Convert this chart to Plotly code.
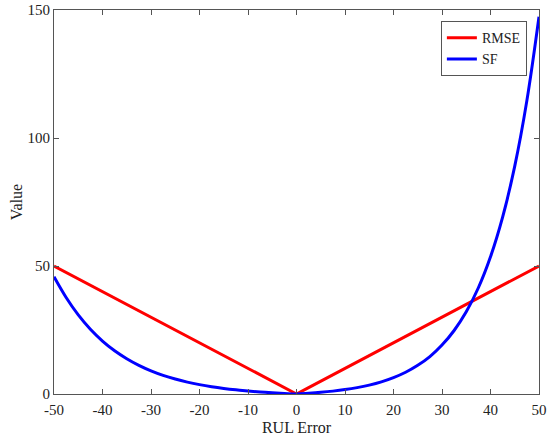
import plotly.graph_objects as go

# RUL error values (x) and the two scoring curves
rul_error = [-50, -47.5, -45, -42.5, -40, -37.5, -35, -32.5, -30, -27.5, -25,
             -22.5, -20, -17.5, -15, -12.5, -10, -7.5, -5, -2.5, 0,
             2.5, 5, 7.5, 10, 12.5, 15, 17.5, 20, 22.5, 25,
             27.5, 30, 32.5, 35, 37.5, 40, 42.5, 45, 47.5, 50]
rmse = [50, 47.5, 45, 42.5, 40, 37.5, 35, 32.5, 30, 27.5, 25,
        22.5, 20, 17.5, 15, 12.5, 10, 7.5, 5, 2.5, 0,
        2.5, 5, 7.5, 10, 12.5, 15, 17.5, 20, 22.5, 25,
        27.5, 30, 32.5, 35, 37.5, 40, 42.5, 45, 47.5, 50]
sf = [45.8, 37.7, 30.9, 25.3, 20.7, 16.9, 13.8, 11.2, 9.05, 7.28, 5.84,
      4.65, 3.66, 2.84, 2.17, 1.62, 1.16, 0.78, 0.47, 0.21, 0,
      0.28, 0.65, 1.12, 1.72, 2.49, 3.48, 4.75, 6.39, 8.49, 11.2,
      14.6, 19.1, 24.8, 32.1, 41.5, 53.6, 69.1, 89.0, 114.6, 147.4]

x_ticks = [-50, -40, -30, -20, -10, 0, 10, 20, 30, 40, 50]
x_labels = ["-50", "-40", "-30", "-20", "-10", "0", "10", "20", "30", "40", "50"]
y_ticks = [0, 50, 100, 150]

fig = go.Figure()
fig.add_trace(go.Scatter(x=rul_error, y=rmse, mode="lines", name="RMSE",
                         line=dict(color="#ff0000", width=3)))
fig.add_trace(go.Scatter(x=rul_error, y=sf, mode="lines", name="SF",
                         line=dict(color="#0000ff", width=3, shape="spline", smoothing=1)))

serif = "Liberation Serif"
axis_common = dict(
    showline=True, linecolor="#555555", linewidth=1, mirror="ticks",
    ticks="inside", ticklen=5, tickcolor="#555555",
    showgrid=False, zeroline=False, automargin=False,
    tickfont=dict(family=serif, size=15, color="#222222"),
)
fig.update_xaxes(range=[-50, 50], tickvals=x_ticks, ticktext=x_labels,
                 ticklabelstandoff=2,
                 title=dict(text="RUL Error", standoff=4,
                            font=dict(family=serif, size=16, color="#222222")),
                 **axis_common)
fig.update_yaxes(range=[0, 150], tickvals=y_ticks,
                 title=dict(text="Value", standoff=0,
                            font=dict(family=serif, size=16, color="#222222")),
                 **axis_common)

fig.update_layout(
    width=550, height=438,
    margin=dict(l=54, r=11, t=10, b=44),
    plot_bgcolor="white", paper_bgcolor="white",
    legend=dict(x=0.975, y=0.971, xanchor="right", yanchor="top",
                bordercolor="#555555", borderwidth=1, bgcolor="white",
                font=dict(family=serif, size=14, color="#222222"),
                tracegroupgap=0),
)

fig.write_html("out.html", config={"displayModeBar": False},
               post_script="document.body.style.margin='0px';document.body.style.overflow='hidden';")
